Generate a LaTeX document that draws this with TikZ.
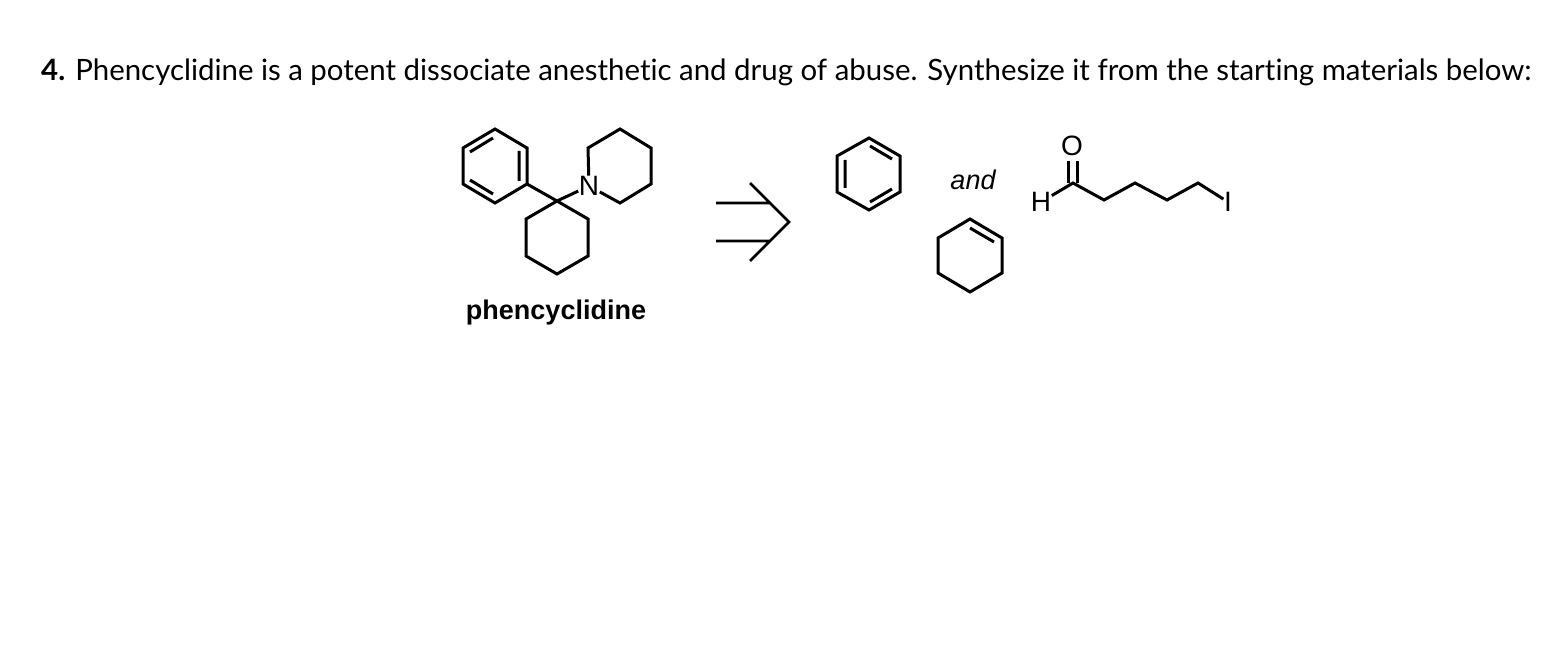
\documentclass[tikz,border=0pt]{standalone}
\usepackage{fontspec}
\setmainfont[Ligatures={NoCommon}]{Lato}
\newfontfamily\arial{Liberation Sans}
\begin{document}
\begin{tikzpicture}[x=1pt,y=-1pt,bond/.style={line width=3pt,line join=miter},
lbl/.style={font=\arial\fontsize{28}{30}\selectfont,inner sep=0.5pt}]
\useasboundingbox (0,0) rectangle (1562,652);
\node[anchor=west,font=\fontsize{29.4}{32}\selectfont,inner sep=0] (title) at (41,72) {\textbf{4.} Phencyclidine is a potent dissociate anesthetic and drug of abuse. Synthesize it from the starting materials below:};
% phenyl
\draw[bond] (495,129)--(527,148)--(527,184)--(495,203)--(463,184)--(463,148)--cycle;
\draw[bond] (470,152)--(493,138) (519,151)--(519,181) (470,180)--(493,194);
% quaternary C, cyclohexane
\draw[bond] (527,184)--(557,201);
\draw[bond] (557,201)--(588,219)--(588,256)--(557,274)--(526,256)--(526,219)--cycle;
\node[lbl] (N) at (589,186) {N};
\draw[bond] (557,201)--(N);
\draw[bond] (N)--(588,148)--(620,129)--(651,148)--(651,184)--(620,203)--(N);
\node[font=\arial\bfseries\fontsize{27}{30}\selectfont] (pcp) at (556,313) {phencyclidine};
% retro arrow
\coordinate (tip) at (789,222);
\draw[line width=2.7pt] (716,203)--(770,203) (716,241)--(770,241) (750,183)--(tip)--(750,261);
% benzene
\draw[bond] (869,138)--(900,156)--(900,192)--(869,210)--(837,192)--(837,156)--cycle;
\draw[bond] (845,160)--(845,188) (870,146)--(892,159) (870,202)--(892,189);
\node[font=\arial\itshape\fontsize{27}{30}\selectfont] (and) at (973,180) {and};
% cyclohexene
\draw[bond] (970,219)--(1002,238)--(1002,273)--(970,292)--(938,273)--(938,238)--cycle;
\draw[bond] (970,228)--(994,242);
% aldehyde
\node[lbl] (O) at (1072,146) {O};
\node[lbl] (H) at (1041,202) {H};
\node[lbl] (I) at (1228,202) {I};
\coordinate (c1) at (1073,183);
\draw[bond] (H)--(c1)--(1104,200)--(1135,183)--(1167,200)--(1198,183)--(I);
\draw[bond] (1068,183)--(1068,161) (1077,183)--(1077,161);
\end{tikzpicture}
\end{document}
